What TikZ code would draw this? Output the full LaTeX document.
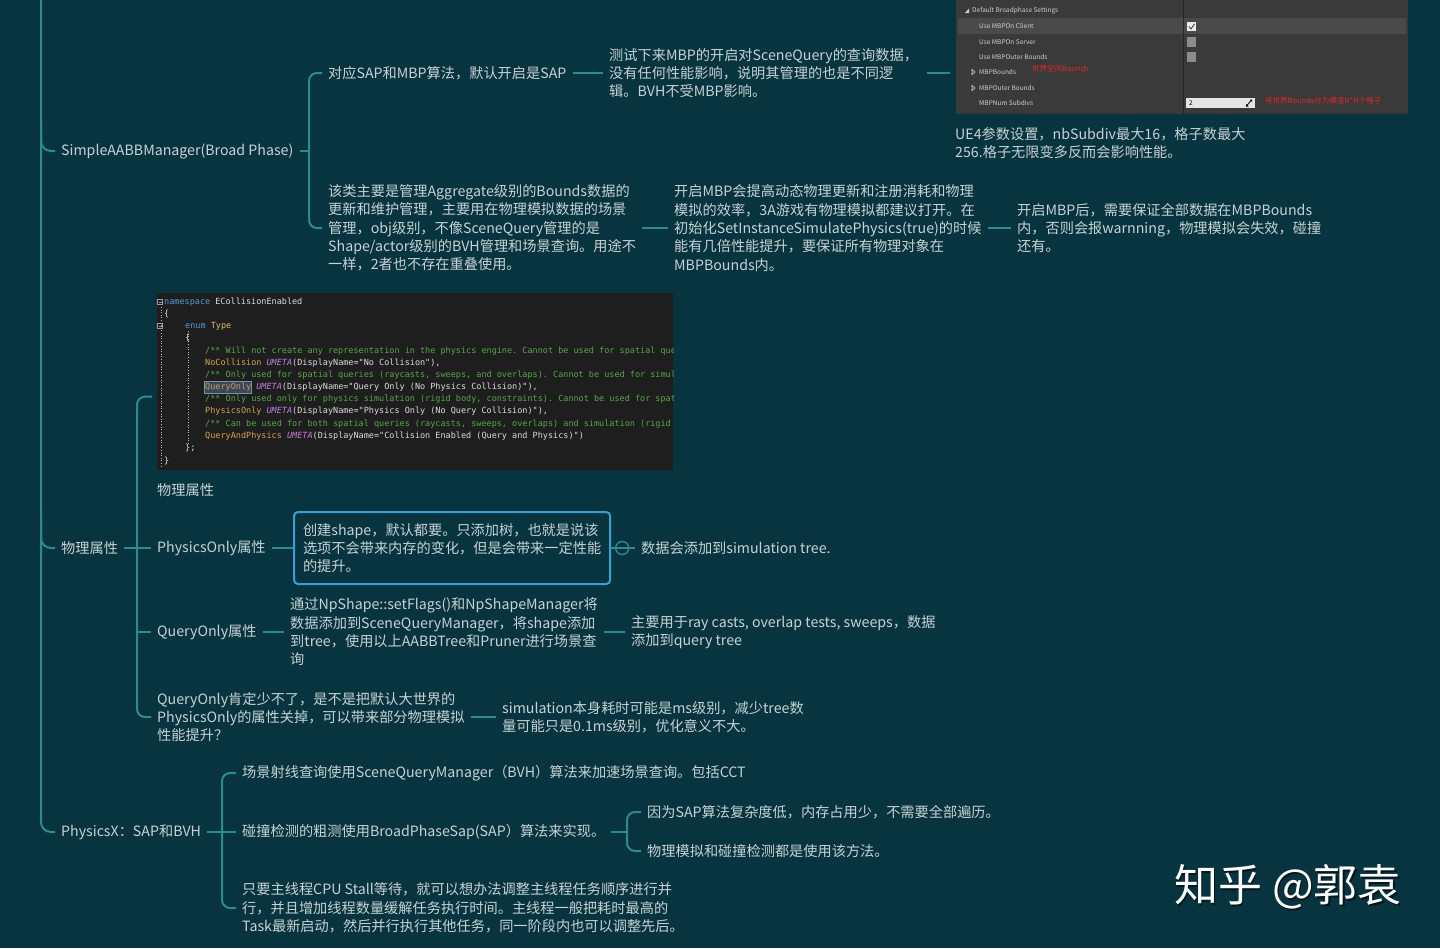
\documentclass[tikz,border=0pt]{standalone}
\usepackage{fontspec}
\setmainfont{Noto Sans CJK SC}
\setmonofont{DejaVu Sans Mono}
\definecolor{bg}{HTML}{083440}
\definecolor{fg}{HTML}{C6D2D5}
\definecolor{ln}{HTML}{2B8B8E}
\definecolor{boxc}{HTML}{3C9FD4}
\definecolor{ueBg}{HTML}{3A3A3A}
\definecolor{ueRow}{HTML}{4A4A4A}
\definecolor{ueDiv}{HTML}{262626}
\definecolor{ueTx}{HTML}{CFCFCF}
\definecolor{ueRed}{HTML}{E02828}
\definecolor{codeBg}{HTML}{1E1E1E}
\definecolor{hlBg}{HTML}{39475A}
\definecolor{hlLn}{HTML}{7F8FA6}
\definecolor{kw}{HTML}{569CD6}
\definecolor{ty}{HTML}{DCC26E}
\definecolor{cm}{HTML}{57A64A}
\definecolor{ev}{HTML}{D8A052}
\definecolor{um}{HTML}{C07ED8}
\definecolor{wh}{HTML}{DCDCDC}
\begin{document}
\begin{tikzpicture}[x=1pt,y=-1pt,
  txt/.style={anchor=west, inner xsep=6pt, inner ysep=1pt, align=left, text=fg,
    font=\fontsize{14.2}{18.3}\selectfont},
  conn/.style={draw=ln, line width=2pt},
  uet/.style={anchor=west, inner sep=0, text=ueTx, font=\fontsize{6.5}{7}\selectfont},
  cl/.style={anchor=west, inner sep=0, font=\ttfamily\fontsize{8.5}{10}\selectfont},
]
\useasboundingbox (0,0) rectangle (1440,948);
\fill[bg] (0,0) rectangle (1440,948);

% ---------- UE4 settings screenshot ----------
\node[inner sep=0, minimum width=458pt, minimum height=160pt, anchor=north west] (ue) at (950,0) {};
\fill[ueBg] (956,0) rectangle (1408,114);
\fill[ueRow] (958,18) rectangle (1406,34);
\draw[ueDiv, line width=1pt] (1183,0) -- (1183,114);
\fill[ueTx] (965,13) -- (969,8.5) -- (969,13) -- cycle;
\node[uet] (ueh) at (972,11) {Default Broadphase Settings};
\node[uet] (ue1) at (979,26) {Use MBPOn Client};
\node[uet] (ue2) at (979,42) {Use MBPOn Server};
\node[uet] (ue3) at (979,57) {Use MBPOuter Bounds};
\draw[ueTx, line width=.6pt] (972,69.5) -- (975,72) -- (972,74.5) -- cycle;
\node[uet] (ue4) at (979,72) {MBPBounds};
\draw[ueTx, line width=.6pt] (972,85.5) -- (975,88) -- (972,90.5) -- cycle;
\node[uet] (ue5) at (979,88) {MBPOuter Bounds};
\node[uet] (ue6) at (979,103) {MBPNum Subdivs};
\node[uet, text=ueRed, font=\fontsize{7.5}{8}\selectfont] (uer1) at (1032,69) {世界空间Bounds};
\node[uet, text=ueRed, font=\fontsize{7.5}{8}\selectfont] (uer2) at (1265,101) {将世界Bounds分为横竖N*N个格子};
\fill[white!92!black] (1187,22) rectangle (1196,31);
\draw[black!75, line width=.9pt] (1188.8,26.5) -- (1191,29) -- (1194.5,23.8);
\fill[ueTx!55!ueBg] (1187,37) rectangle (1196,47);
\fill[ueTx!55!ueBg] (1187,52) rectangle (1196,62);
\fill[white!90!black] (1186,98) rectangle (1255,108);
\node[uet, text=black] (uein) at (1189,103) {2};
\draw[black, line width=.8pt] (1246.5,106) -- (1251.5,100);
\fill[black] (1246,106.5) -- (1246,104) -- (1248.5,106.5) -- cycle;
\fill[black] (1252,99.5) -- (1252,102) -- (1249.5,99.5) -- cycle;

% ---------- code screenshot ----------
\node[inner sep=0, minimum width=521pt, minimum height=207pt, anchor=north west] (code) at (152,293) {};
\fill[codeBg] (157,293) rectangle (673,470);
\begin{scope}
\clip (157,293) rectangle (673,470);
\draw[gray!55, dotted, line width=.6pt] (161,307) -- (161,466);
\draw[gray!55, dotted, line width=.6pt] (188,331) -- (188,444);
\draw[gray!80, line width=.5pt] (157.5,299.5) rectangle (162.5,304.5);
\draw[gray!80, line width=.5pt] (158.5,302) -- (161.5,302);
\draw[gray!80, line width=.5pt] (157.5,323.5) rectangle (162.5,328.5);
\draw[gray!80, line width=.5pt] (158.5,326) -- (161.5,326);
\fill[hlBg] (204,381) rectangle (251.5,393.5);
\draw[hlLn, line width=.5pt] (204,381) rectangle (251.5,393.5);
\node[cl] (c1) at (164,302) {\textcolor{kw}{namespace} \textcolor{wh}{ECollisionEnabled}};
\node[cl] (c2) at (164,314) {\textcolor{wh}{\{}};
\node[cl] (c3) at (185,326) {\textcolor{kw}{enum} \textcolor{ty}{Type}};
\node[cl] (c4) at (185,338) {\textcolor{wh}{\{}};
\node[cl] (c5) at (205,351) {\textcolor{cm}{/** Will not create any representation in the physics engine. Cannot be used for spatial queries}};
\node[cl] (c6) at (205,363) {\textcolor{ev}{NoCollision} \textcolor{um}{\itshape UMETA}\textcolor{wh}{(DisplayName="No Collision"),}};
\node[cl] (c7) at (205,375) {\textcolor{cm}{/** Only used for spatial queries (raycasts, sweeps, and overlaps). Cannot be used for simulation}};
\node[cl] (c8) at (205,387) {\textcolor{ev!80!gray}{QueryOnly} \textcolor{um}{\itshape UMETA}\textcolor{wh}{(DisplayName="Query Only (No Physics Collision)"),}};
\node[cl] (c9) at (205,399) {\textcolor{cm}{/** Only used only for physics simulation (rigid body, constraints). Cannot be used for spatial}};
\node[cl] (c10) at (205,411) {\textcolor{ev}{PhysicsOnly} \textcolor{um}{\itshape UMETA}\textcolor{wh}{(DisplayName="Physics Only (No Query Collision)"),}};
\node[cl] (c11) at (205,424) {\textcolor{cm}{/** Can be used for both spatial queries (raycasts, sweeps, overlaps) and simulation (rigid body}};
\node[cl] (c12) at (205,436) {\textcolor{ev}{QueryAndPhysics} \textcolor{um}{\itshape UMETA}\textcolor{wh}{(DisplayName="Collision Enabled (Query and Physics)")}};
\node[cl] (c13) at (185,448) {\textcolor{wh}{\};}};
\node[cl] (c14) at (164,461) {\textcolor{wh}{\}}};
\end{scope}

% ---------- text nodes ----------
\node[txt] (simple) at (55,151) {SimpleAABBManager(Broad Phase)};
\node[txt] (sap) at (322,73) {对应SAP和MBP算法，默认开启是SAP};
\node[txt] (ceshi) at (603,73) {测试下来MBP的开启对SceneQuery的查询数据，\\没有任何性能影响，说明其管理的也是不同逻\\辑。BVH不受MBP影响。};
\node[txt] (uecap) at (949,143) {UE4参数设置，nbSubdiv最大16，格子数最大\\256.格子无限变多反而会影响性能。};
\node[txt] (aggr) at (322,228) {该类主要是管理Aggregate级别的Bounds数据的\\更新和维护管理，主要用在物理模拟数据的场景\\管理，obj级别，不像SceneQuery管理的是\\Shape/actor级别的BVH管理和场景查询。用途不\\一样，2者也不存在重叠使用。};
\node[txt] (mbp1) at (668,228) {开启MBP会提高动态物理更新和注册消耗和物理\\模拟的效率，3A游戏有物理模拟都建议打开。在\\初始化SetInstanceSimulatePhysics(true)的时候\\能有几倍性能提升，要保证所有物理对象在\\MBPBounds内。};
\node[txt] (mbp2) at (1011,228) {开启MBP后，需要保证全部数据在MBPBounds\\内，否则会报warnning，物理模拟会失效，碰撞\\还有。};

\node[txt] (phys) at (55,548) {物理属性};
\node[txt] (codecap) at (151,490) {物理属性};
\node[txt] (physonly) at (151,548) {PhysicsOnly属性};
\node[txt, draw=boxc, line width=2pt, rounded corners=4pt, inner xsep=9pt, minimum height=72pt] (box) at (293,548) {创建shape，默认都要。只添加树，也就是说该\\选项不会带来内存的变化，但是会带来一定性能\\的提升。};
\node[txt] (simtree) at (635,548) {数据会添加到simulation tree.};
\node[txt] (qonly) at (151,632) {QueryOnly属性};
\node[txt] (np) at (284,632) {通过NpShape::setFlags()和NpShapeManager将\\数据添加到SceneQueryManager，将shape添加\\到tree，使用以上AABBTree和Pruner进行场景查\\询};
\node[txt] (rayq) at (625,632) {主要用于ray casts, overlap tests, sweeps，数据\\添加到query tree};
\node[txt] (qmore) at (151,717) {QueryOnly肯定少不了，是不是把默认大世界的\\PhysicsOnly的属性关掉，可以带来部分物理模拟\\性能提升？};
\node[txt] (simcost) at (496,717) {simulation本身耗时可能是ms级别，减少tree数\\量可能只是0.1ms级别，优化意义不大。};

\node[txt] (physx) at (55,832) {PhysicsX：SAP和BVH};
\node[txt] (ray) at (236,773) {场景射线查询使用SceneQueryManager（BVH）算法来加速场景查询。包括CCT};
\node[txt] (bph) at (236,832) {碰撞检测的粗测使用BroadPhaseSap(SAP）算法来实现。};
\node[txt] (sapl) at (641,812) {因为SAP算法复杂度低，内存占用少，不需要全部遍历。};
\node[txt] (phyl) at (641,851) {物理模拟和碰撞检测都是使用该方法。};
\node[txt] (stall) at (236,908) {只要主线程CPU Stall等待，就可以想办法调整主线程任务顺序进行并\\行，并且增加线程数量缓解任务执行时间。主线程一般把耗时最高的\\Task最新启动，然后并行执行其他任务，同一阶段内也可以调整先后。};

% ---------- connectors ----------
\coordinate (spineTop) at (41,-5);
\coordinate (sb) at (41,120);
\coordinate (pb) at (41,515);
\draw[conn, rounded corners=10pt] (spineTop) |- (physx.west);
\draw[conn, rounded corners=10pt] (sb) |- (simple.west);
\draw[conn, rounded corners=10pt] (pb) |- (phys.west);

\coordinate (b1) at (309,151);
\draw[conn] (simple.east) -- (b1);
\draw[conn, rounded corners=8pt] (sap.west) -| (b1) |- (aggr.west);
\draw[conn] (sap.east) -- (ceshi.west);
\draw[conn] ([xshift=3pt]ceshi.east) -- (ceshi.east -| ue.west);
\draw[conn] (aggr.east) -- (mbp1.west);
\draw[conn] (mbp1.east) -- (mbp2.west);

\coordinate (b2) at (137,548);
\draw[conn] (phys.east) -- (physonly.west);
\draw[conn, rounded corners=8pt] (code.west) -| (b2) |- (qmore.west);
\draw[conn] (b2 |- qonly.west) -- (qonly.west);
\draw[conn] (physonly.east) -- (box.west);
\draw[conn] (box.east) -- (simtree.west);
\node[circle, draw=ln, line width=1.4pt, minimum size=13pt, inner sep=0] (tog) at ([xshift=11pt]box.east) {};
\draw[conn] (qonly.east) -- (np.west);
\draw[conn] (np.east) -- (rayq.west);
\draw[conn] (qmore.east) -- (simcost.west);

\coordinate (b3) at (222,832);
\draw[conn] (physx.east) -- (bph.west);
\draw[conn, rounded corners=8pt] (ray.west) -| (b3) |- (stall.west);
\coordinate (b4) at (627,832);
\draw[conn] (bph.east) -- (b4);
\draw[conn, rounded corners=8pt] (sapl.west) -| (b4) |- (phyl.west);

% ---------- watermark ----------
\node[text=black, opacity=.55, font=\fontsize{44}{44}\selectfont] (wmshadow) at (1289.5,888.5) {知乎 @郭袁};
\node[text=white, font=\fontsize{44}{44}\selectfont] (wm) at (1288,887) {知乎 @郭袁};
\end{tikzpicture}
\end{document}
